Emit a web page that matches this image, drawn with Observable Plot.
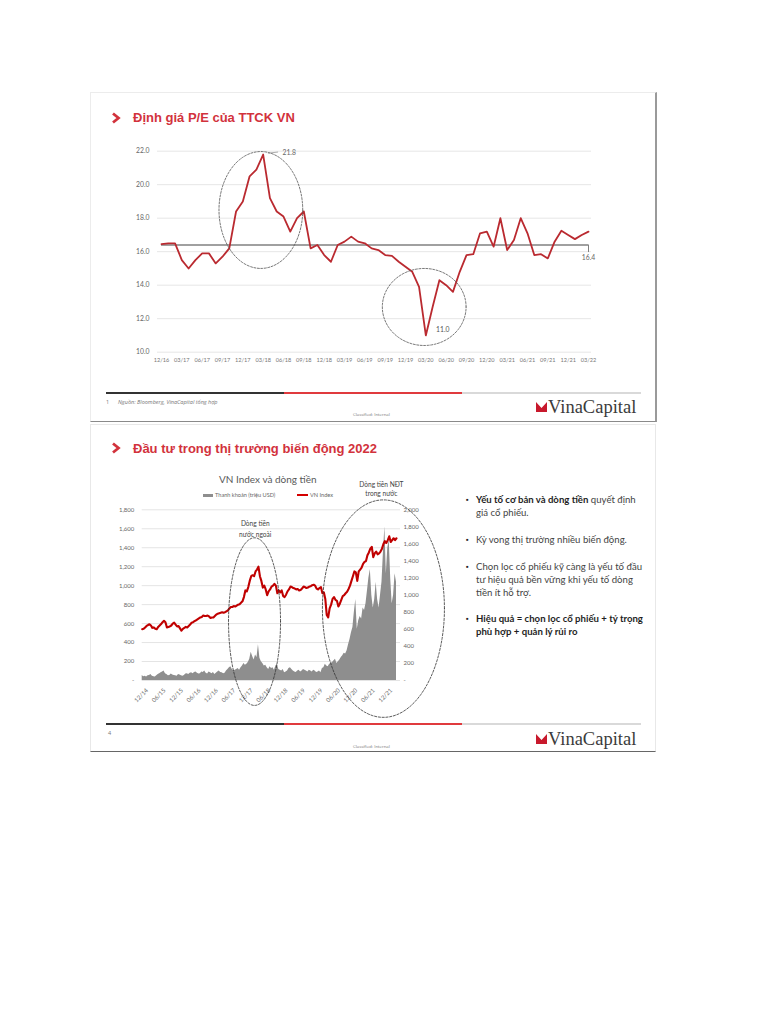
<!DOCTYPE html>
<html lang="vi"><head><meta charset="utf-8">
<script src="https://cdn.jsdelivr.net/npm/d3@7"></script>
<script src="https://cdn.jsdelivr.net/npm/@observablehq/plot@0.6"></script>
<style>
html,body{margin:0;padding:0;background:#fff}
body{width:768px;height:1024px;position:relative;overflow:hidden;font-family:"Liberation Sans",Arial,sans-serif}
.a{position:absolute;white-space:nowrap}
.slide{position:absolute;box-sizing:border-box;background:#fff}
.title{position:absolute;font-weight:bold;font-size:13px;color:#d2323c;line-height:16px;white-space:nowrap}
.bar{position:absolute;height:2.6px}
.foot{position:absolute;font-family:"Open Sans",sans-serif;color:#777;white-space:nowrap}
.logo{position:absolute;display:flex;align-items:center;gap:1px}
.logo span{font-family:"Liberation Serif","DejaVu Serif",serif;font-size:18.5px;color:#3b3b3b;line-height:18px}
.bul{position:absolute;left:466px;font-family:Lato,sans-serif;font-size:9.6px;line-height:13.3px;color:#444;white-space:nowrap}
.bul i{font-style:normal;position:absolute;left:0;top:0;font-size:7px;color:#222}
.bul div{margin-left:10px}
.bul b{color:#1e1e1e}
.chart{position:absolute}
.ctitle{position:absolute;font-family:Lato,sans-serif;font-size:10px;color:#595959;white-space:nowrap}
.leg{position:absolute;font-family:Lato,sans-serif;font-size:5.6px;color:#666;white-space:nowrap;line-height:8px}
</style></head><body>

<!-- slide 1 -->
<div class="slide" style="left:90px;top:92px;width:567px;height:330px;border:1px solid #ececec;border-right:2px solid #9a9a9a;border-bottom:1.5px solid #8a8a8a"></div>
<svg class="a" style="left:111px;top:112px" width="10" height="12"><polyline points="2,1.5 7.5,6 2,10.5" fill="none" stroke="#d2323c" stroke-width="2.8"/></svg>
<div class="title" style="left:133px;top:110px">Định giá P/E của TTCK VN</div>
<div id="pe" class="chart" style="left:100px;top:135px"></div>
<div class="bar" style="left:106px;top:391.5px;width:178px;background:#333"></div>
<div class="bar" style="left:284px;top:391.5px;width:178px;background:#e03a3e"></div>
<div class="bar" style="left:462px;top:391.5px;width:179px;background:#d9d9d9"></div>
<div class="foot" style="left:106px;top:398px;font-size:5.5px">1</div>
<div class="foot" style="left:118px;top:398px;font-size:5.5px;font-style:italic">Nguồn: Bloomberg, VinaCapital tổng hợp</div>
<div class="foot" style="left:353px;top:411px;font-size:4.3px">Classified: Internal</div>
<div class="logo" style="left:536px;top:398px">
  <svg width="11" height="10"><polygon points="0,0 5.5,6 11,0 11,10 0,10" fill="#c8192c"/></svg><span>VinaCapital</span>
</div>

<!-- slide 2 -->
<div class="slide" style="left:90px;top:424px;width:566px;height:328px;border:1px solid #e8e8e8;border-bottom:1.5px solid #666"></div>
<svg class="a" style="left:111px;top:442px" width="10" height="12"><polyline points="2,1.5 7.5,6 2,10.5" fill="none" stroke="#d2323c" stroke-width="2.8"/></svg>
<div class="title" style="left:133px;top:441px">Đầu tư trong thị trường biến động 2022</div>
<div id="vn" class="chart" style="left:95px;top:470px"></div>
<div class="ctitle" style="left:219px;top:473px">VN Index và dòng tiền</div>
<div class="a" style="left:203px;top:493.5px;width:10px;height:3.5px;background:#8e8e8e"></div>
<div class="leg" style="left:215px;top:491px">Thanh khoản (triệu USD)</div>
<div class="a" style="left:297px;top:494px;width:11px;height:2.2px;background:#d40000"></div>
<div class="leg" style="left:310px;top:491px">VN Index</div>

<div class="bul" style="top:493px"><i>▪</i><div><b>Yếu tố cơ bản và dòng tiền</b> quyết định<br>giá cổ phiếu.</div></div>
<div class="bul" style="top:532.5px"><i>▪</i><div>Kỳ vong thị trường nhiều biến động.</div></div>
<div class="bul" style="top:559.5px"><i>▪</i><div>Chọn lọc cổ phiếu kỹ càng là yếu tố đầu<br>tư hiệu quả bền vững khi yếu tố dòng<br>tiền ít hỗ trợ.</div></div>
<div class="bul" style="top:611.5px"><i>▪</i><div><b>Hiệu quả = chọn lọc cổ phiếu + tỷ trọng<br>phù hợp + quản lý rủi ro</b></div></div>

<div class="bar" style="left:106px;top:722.5px;width:178px;background:#333"></div>
<div class="bar" style="left:284px;top:722.5px;width:178px;background:#e03a3e"></div>
<div class="bar" style="left:462px;top:722.5px;width:179px;background:#d9d9d9"></div>
<div class="foot" style="left:108px;top:729px;font-size:5.5px">4</div>
<div class="foot" style="left:353px;top:743px;font-size:4.3px">Classified: Internal</div>
<div class="logo" style="left:536px;top:730px">
  <svg width="11" height="10"><polygon points="0,0 5.5,6 11,0 11,10 0,10" fill="#c8192c"/></svg><span>VinaCapital</span>
</div>

<script>
// ---------- Chart 1: P/E ----------
const peXLabels = ["12/16","03/17","06/17","09/17","12/17","03/18","06/18","09/18","12/18","03/19","06/19","09/19","12/19","03/20","06/20","09/20","12/20","03/21","06/21","09/21","12/21","03/22"];
const peValues = [16.45,16.5,16.5,15.5,15.0,15.5,15.9,15.9,15.3,15.7,16.2,18.4,19.0,20.5,20.9,21.8,19.2,18.4,18.1,17.2,18.0,18.4,16.2,16.4,15.8,15.4,16.4,16.6,16.9,16.6,16.5,16.2,16.1,15.8,15.75,15.4,15.1,14.8,13.9,11.0,12.7,14.3,14.0,13.6,14.8,15.8,15.85,17.1,17.2,16.3,18.0,16.1,16.7,18.0,17.1,15.8,15.85,15.6,16.6,17.25,17.0,16.75,17.0,17.2];
const peAverage = 16.4;
const peYTicks = [10,12,14,16,18,20,22];
const pePeak = {i:15, v:21.8};
const peTrough = {i:39, v:11.0};
const peCircles = [{id:1,cx:14.66,cy:18.49,rx:6.18,ry:3.49},{id:2,cx:38.76,cy:12.70,rx:6.18,ry:2.30}];

function ellipsePts(e){return d3.range(0,361,4).map(a=>({id:e.id,x:e.cx+e.rx*Math.cos(a*Math.PI/180),y:e.cy+e.ry*Math.sin(a*Math.PI/180)}));}

const peRows = peValues.map((v,i)=>({i,v}));
const peTickRows = peXLabels.map((l,k)=>({i:k*3,l}));

const pe = Plot.plot({
  width:500,height:245,
  marginLeft:57,marginRight:9,marginTop:15.7,marginBottom:28.3,
  style:{fontFamily:"Lato, sans-serif",fontSize:"6.8px",color:"#666",background:"transparent",overflow:"visible"},
  x:{domain:[0,63],insetLeft:4,insetRight:3,axis:null},
  y:{domain:[10,22],ticks:peYTicks,tickFormat:d3.format(".1f"),tickSize:0,tickPadding:8,label:null},
  marks:[
    Plot.ruleY(peYTicks,{stroke:"#e6e6e6",strokeWidth:1}),
    Plot.ruleY([peAverage],{x1:0,x2:63,stroke:"#808080",strokeWidth:1.6}),
    Plot.ruleX([63],{y1:peAverage,y2:peAverage-0.45,stroke:"#808080",strokeWidth:1}),
    Plot.text([peAverage],{x:63,y:d=>d,text:d=>d.toFixed(1),dy:13,fontSize:6.8,fill:"#666"}),
    Plot.line(peRows,{x:"i",y:"v",stroke:"#ba2a30",strokeWidth:1.8,strokeLinejoin:"round"}),
    Plot.line(peCircles.flatMap(ellipsePts),{x:"x",y:"y",z:"id",stroke:"#555",strokeWidth:0.8,strokeDasharray:"2,1.5"}),
    Plot.link([pePeak],{x1:d=>d.i+0.7,y1:d=>d.v+0.08,x2:d=>d.i+2.2,y2:d=>d.v+0.15,stroke:"#888",strokeWidth:0.7}),
    Plot.text([pePeak],{x:"i",y:"v",text:d=>d.v.toFixed(1),dx:26,dy:-2,fontSize:6.8,fill:"#666"}),
    Plot.text([peTrough],{x:"i",y:"v",text:d=>d.v.toFixed(1),dx:17,dy:-6,fontSize:6.8,fill:"#555"}),
    Plot.text(peTickRows,{x:"i",y:10,text:"l",dy:8,fontSize:5.6,fill:"#777"})
  ]
});
document.getElementById("pe").appendChild(pe);

// ---------- Chart 2: VN Index & turnover (semi-monthly, Dec 2014 – Mar 2022) ----------
const vnXLabels = ["12/14","06/15","12/15","06/16","12/16","06/17","12/17","06/18","12/18","06/19","12/19","06/20","12/20","06/21","12/21"];
const vnIndex = [
540,545, 560,575,585,593,580,555,560,545,540,565,580,595,615,630,615,560,565,570,580,600,610,590,570,575,
550,525,545,555,565,560,575,590,610,615,625,635,645,655,665,670,685,680,680,685,675,660,665,665,
680,695,705,710,715,720,715,720,730,740,760,775,775,785,780,790,800,805,820,835,880,950,940,985,
1050,1100,1110,1100,1150,1170,1200,1100,1050,980,1000,960,900,940,960,990,1000,1020,1000,920,950,930,950,890,
880,905,940,960,990,985,975,970,960,965,950,955,970,990,985,975,980,990,995,1005,1010,1000,970,960,
975,985,920,930,860,690,665,760,800,860,880,850,840,780,810,850,890,900,920,935,965,1000,1050,1100,
1150,1140,1050,1150,1170,1190,1230,1250,1260,1320,1350,1390,1410,1300,1340,1360,1330,1340,1360,1390,1440,1470,1450,1480,
1520,1460,1480,1500,1480,1500];
const turnover = [
60,45, 50,40,55,60,70,50,45,40,55,70,80,90,100,110,80,70,55,60,75,65,60,55,50,70,
65,55,50,60,75,80,70,85,90,80,95,100,85,75,80,100,95,110,85,75,100,90,80,95,
70,85,100,110,95,90,80,85,110,130,150,160,130,110,120,130,140,120,150,170,200,180,190,210,
250,330,280,240,300,270,420,260,220,200,170,180,150,130,160,140,150,120,170,190,130,120,110,130,
90,100,110,140,150,130,110,100,95,110,120,100,110,130,120,110,100,120,110,100,120,110,95,100,
110,90,140,150,190,170,160,190,200,210,230,250,200,220,240,270,290,320,310,350,420,480,560,620,
800,950,600,700,750,720,850,820,900,1050,1200,1300,1000,850,950,1150,950,850,1000,1150,1500,1800,1250,1550,
1650,1200,900,1000,1250,1150];
const leftTicks = d3.range(0,1801,200);
const rightTicks = d3.range(0,2001,200);
const vnCircles = [{id:1,cx:38.65,cy:621,rx:8.95,ry:884},{id:2,cx:83.0,cy:758,rx:21.0,ry:1147}];
const vnNotes = [{m:38.9,y:1653,t:"Dòng tiền"},{m:38.9,y:1537,t:"nước ngoài"},{m:82.3,y:2063,t:"Dòng tiền NĐT"},{m:82.3,y:1965,t:"trong nước"}];

const rightToLeft = 1800/2000;
const vnRows = vnIndex.map((v,i)=>({m:i/2,v,t:turnover[i]}));
const vnTickRows = vnXLabels.map((l,k)=>({m:k*6,l}));
const fmt = d=>d===0?"-":d3.format(",")(d);

const vn = Plot.plot({
  width:360,height:260,
  marginLeft:46.7,marginRight:55,marginTop:39.3,marginBottom:50,
  style:{fontFamily:"Lato, sans-serif",fontSize:"6px",color:"#666",background:"transparent",overflow:"visible"},
  x:{domain:[0,87.5],insetRight:4,axis:null},
  y:{domain:[0,1800],ticks:leftTicks,tickFormat:fmt,tickSize:0,tickPadding:8,label:null},
  marks:[
    Plot.ruleY(leftTicks,{stroke:"#e4e4e4",strokeWidth:1}),
    Plot.areaY(vnRows,{x:"m",y:d=>d.t*rightToLeft,fill:"#8e8e8e"}),
    Plot.line(vnRows,{x:"m",y:"v",stroke:"#c00000",strokeWidth:2.1,strokeLinejoin:"round"}),
    Plot.text(rightTicks,{x:87.5,y:d=>d*rightToLeft,text:fmt,dx:7,textAnchor:"start",fill:"#666",fontSize:6}),
    Plot.text(vnTickRows,{x:"m",y:0,text:"l",rotate:-45,textAnchor:"end",dx:5,dy:9,fontSize:6,fill:"#666"}),
    Plot.line(vnCircles.flatMap(ellipsePts),{x:"x",y:"y",z:"id",stroke:"#333",strokeWidth:0.8,strokeDasharray:"2.2,1.6"}),
    Plot.text(vnNotes,{x:"m",y:"y",text:"t",fontSize:6.6,fill:"#444"})
  ]
});
document.getElementById("vn").appendChild(vn);
</script>
</body></html>
